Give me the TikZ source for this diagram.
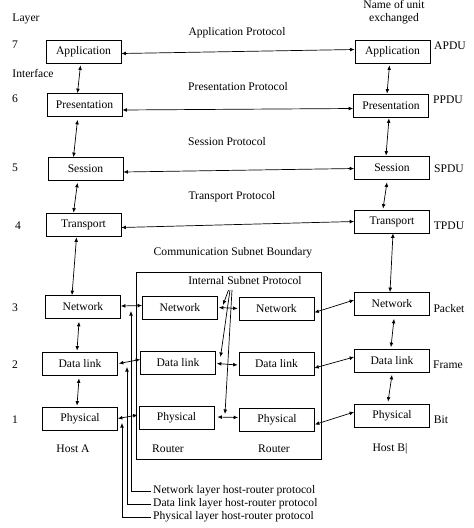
\documentclass[tikz,border=0pt]{standalone}
\usepackage{fontspec}
\setmainfont{Liberation Serif}
\usetikzlibrary{arrows.meta,calc}
\tikzset{
  layerbox/.style={draw, line width=0.7pt, minimum width=75pt, minimum height=23pt, inner sep=0pt, font=\fontsize{11.6}{13}\selectfont},
  lbl/.style={inner sep=0pt, font=\fontsize{11.6}{13}\selectfont},
  arr/.style={{Latex[length=4.5pt,width=3.8pt]}-{Latex[length=4.5pt,width=3.8pt]}, line width=0.7pt},
  onearr/.style={-{Latex[length=4.5pt,width=3.8pt]}, line width=0.7pt},
  edge/.style={line width=0.7pt}
}
\begin{document}
\begin{tikzpicture}[x=1pt,y=-1pt]
\useasboundingbox (0,0) rectangle (474,528);
% side labels
\node[lbl] (layer) at (26,19) {Layer};
\node[lbl] (iface) at (33,73) {Interface};
\node[lbl] (n7) at (15,45) {7};
\node[lbl] (n6) at (15,99) {6};
\node[lbl] (n5) at (15,168) {5};
\node[lbl] (n4) at (18,226) {4};
\node[lbl] (n3) at (15,308) {3};
\node[lbl] (n2) at (15,365) {2};
\node[lbl] (n1) at (15,420) {1};
\node[lbl, align=center] (unit) at (394,12) {Name of unit\\exchanged};
\node[lbl] (apdu) at (450,46) {APDU};
\node[lbl] (ppdu) at (448,100) {PPDU};
\node[lbl] (spdu) at (449,169) {SPDU};
\node[lbl] (tpdu) at (449,226) {TPDU};
\node[lbl] (packet) at (449,309) {Packet};
\node[lbl] (frame) at (448,365) {Frame};
\node[lbl] (bit) at (441,420) {Bit};
% protocol labels
\node[lbl] (pApp) at (237,33) {Application Protocol};
\node[lbl] (pPres) at (238,87) {Presentation Protocol};
\node[lbl] (pSes) at (227,142) {Session Protocol};
\node[lbl] (pTra) at (232,197) {Transport Protocol};
\node[lbl] (pCom) at (233,253) {Communication Subnet Boundary};
\node[lbl] (pInt) at (245,281) {Internal Subnet Protocol};
% subnet boundary
\draw[edge] (136,272) rectangle (321,459);
% host A
\node[layerbox] (aApp) at (83.5,51.5) {Application};
\node[layerbox] (aPres) at (84.5,105) {Presentation};
\node[layerbox] (aSes) at (85.5,169) {Session};
\node[layerbox] (aTra) at (83.5,224.5) {Transport};
\node[layerbox] (aNet) at (83,307) {Network};
\node[layerbox] (aDL) at (80,363.5) {Data link};
\node[layerbox] (aPhy) at (80,418.5) {Physical};
% host B
\node[layerbox] (bApp) at (392.5,51.5) {Application};
\node[layerbox] (bPres) at (391,105.5) {Presentation};
\node[layerbox] (bSes) at (392,167.5) {Session};
\node[layerbox] (bTra) at (392,221.5) {Transport};
\node[layerbox] (bNet) at (392,304) {Network};
\node[layerbox] (bDL) at (392,361) {Data link};
\node[layerbox] (bPhy) at (392,415.5) {Physical};
% routers
\node[layerbox] (r1Net) at (180,307.5) {Network};
\node[layerbox] (r1DL) at (178,362.5) {Data link};
\node[layerbox] (r1Phy) at (176.5,418) {Physical};
\node[layerbox] (r2Net) at (276.5,308.5) {Network};
\node[layerbox] (r2DL) at (276.5,364) {Data link};
\node[layerbox] (r2Phy) at (277,419.5) {Physical};
% bottom labels
\node[lbl] (hostA) at (73,449) {Host A};
\node[lbl] (rout1) at (168,449) {Router};
\node[lbl] (rout2) at (274,449) {Router};
\node[lbl] (hostB) at (390,449) {Host B|};
% peer protocol arrows
\draw[arr] ([yshift=-2pt]aApp.east) -- ([yshift=2pt]bApp.west);
\draw[arr] ([yshift=-5pt]aPres.east) -- ([yshift=-3pt]bPres.west);
\draw[arr] ([yshift=-3pt]aSes.east) -- ([yshift=-1pt]bSes.west);
\draw[arr] ([yshift=-3pt]aTra.east) -- ([yshift=0pt]bTra.west);
% host A vertical
\draw[arr] ([xshift=-3pt,yshift=-2pt]aApp.south) -- ([xshift=-7pt]aPres.north);
\draw[arr] ([xshift=-7pt,yshift=-3pt]aPres.south) -- ([xshift=-12pt]aSes.north);
\draw[arr] ([xshift=-8pt,yshift=-2pt]aSes.south) -- ([xshift=-10pt]aTra.north);
\draw[arr] ([xshift=-7pt,yshift=-1pt]aTra.south) -- ([xshift=-11pt]aNet.north);
\draw[arr] ([xshift=-4pt,yshift=-3pt]aNet.south) -- ([xshift=-3pt,yshift=1pt]aDL.north);
\draw[arr] ([xshift=-1pt,yshift=-3pt]aDL.south) -- ([xshift=-3pt,yshift=1pt]aPhy.north);
% host B vertical
\draw[arr] ([xshift=-3pt,yshift=-2pt]bApp.south) -- ([xshift=-4pt]bPres.north);
\draw[arr] ([xshift=-2pt,yshift=-1pt]bPres.south) -- ([xshift=-6pt]bSes.north);
\draw[arr] ([xshift=-5pt,yshift=-3pt]bSes.south) -- ([xshift=-9pt,yshift=1pt]bTra.north);
\draw[arr] ([xshift=1pt,yshift=0pt]bTra.south) -- ([xshift=-2pt]bNet.north);
\draw[arr] ([xshift=2pt,yshift=-3pt]bNet.south) -- ([xshift=-1pt,yshift=2pt]bDL.north);
\draw[arr] ([xshift=0pt,yshift=-2pt]bDL.south) -- ([xshift=-4pt,yshift=2pt]bPhy.north);
% host A to router 1
\draw[arr] ([yshift=1pt]aNet.east) -- ([yshift=2pt]r1Net.west);
\draw[arr] ([xshift=1pt,yshift=0pt]aDL.east) -- ([yshift=3pt]r1DL.west);
\draw[arr] ([xshift=0pt,yshift=0pt]aPhy.east) -- ([xshift=-1pt,yshift=3pt]r1Phy.west);
% router 1 to router 2
\draw[arr] ([xshift=1pt]r1Net.east) -- ([xshift=-1pt]r2Net.west);
\draw[arr] ([xshift=1pt,yshift=-1pt]r1DL.east) -- ([xshift=-1pt,yshift=-1pt]r2DL.west);
\draw[arr] ([xshift=3pt,yshift=1pt]r1Phy.east) -- ([xshift=-1pt,yshift=2pt]r2Phy.west);
% router 2 to host B
\draw[arr] ([yshift=-4pt]r2Net.east) -- ([yshift=4pt]bNet.west);
\draw[arr] ([yshift=-4pt]r2DL.east) -- ([yshift=4pt]bDL.west);
\draw[arr] ([yshift=-5pt]r2Phy.east) -- ([yshift=3.5pt]bPhy.west);
% internal subnet protocol pointers
\coordinate (isp1) at (228.5,290);
\coordinate (isp2) at (230,290);
\coordinate (isp3) at (232,290);
\coordinate (ispT1) at (223,305);
\coordinate (ispT2) at (220.5,357);
\coordinate (ispT3) at (225,414);
\draw[onearr] (isp1) -- (ispT1);
\draw[onearr] (isp2) -- (ispT2);
\draw[onearr] (isp3) -- (ispT3);
% host-router protocol labels
\node[lbl, anchor=west] (hrNet) at (153,491) {Network layer host-router protocol};
\node[lbl, anchor=west] (hrDL) at (153,504) {Data link layer host-router protocol};
\node[lbl, anchor=west] (hrPhy) at (153,517) {Physical layer host-router protocol};
\coordinate (hrNetT) at (131,311);
\coordinate (hrDLT) at (127,367);
\coordinate (hrPhyT) at (122,423);
\draw[onearr] ([xshift=-2pt]hrNet.west) -| (hrNetT);
\draw[onearr] ([xshift=-2pt]hrDL.west) -| (hrDLT);
\draw[onearr] ([xshift=-2pt]hrPhy.west) -| (hrPhyT);
\end{tikzpicture}
\end{document}
